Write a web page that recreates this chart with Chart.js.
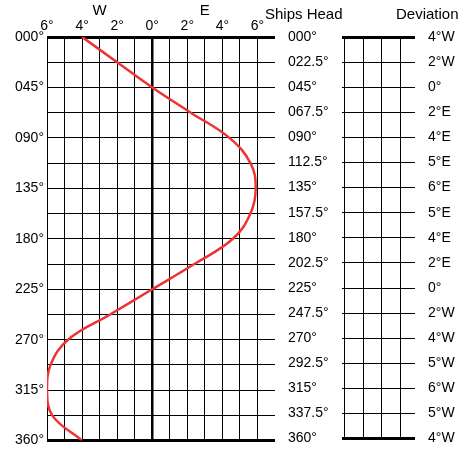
<!DOCTYPE html>
<html>
<head>
<meta charset="utf-8">
<script src="https://cdn.jsdelivr.net/npm/chart.js@4"></script>
<style>
  body { margin: 0; background: #fff; font-family: "Liberation Sans", Arial, sans-serif; }
  #wrap { position: relative; width: 474px; height: 462px; }
  #curveBox { position: absolute; left: 0; top: 0; width: 277px; height: 452px; }
  #tableBox { position: absolute; left: 288px; top: 0; width: 186px; height: 452px; }
  .head { position: absolute; top: 5px; font-size: 15px; color: #000; }
</style>
</head>
<body>
<div id="wrap">
  <div id="curveBox"><canvas id="curveChart"></canvas></div>
  <div id="tableBox"><canvas id="tableChart"></canvas></div>
  <div class="head" style="left:265px">Ships Head</div>
  <div class="head" style="left:396px">Deviation</div>
</div>
<script>
const headings = [0, 22.5, 45, 67.5, 90, 112.5, 135, 157.5, 180, 202.5, 225, 247.5, 270, 292.5, 315, 337.5, 360];
// deviation, east positive
const curveDeviation = [-4, -2, 0, 2.2, 4.4, 5.6, 5.9, 5.6, 4.6, 2.4, 0, -2.4, -4.8, -5.8, -6, -5.7, -4];
const headingLabels = ['000°', '022.5°', '045°', '067.5°', '090°', '112.5°', '135°', '157.5°', '180°',
  '202.5°', '225°', '247.5°', '270°', '292.5°', '315°', '337.5°', '360°'];
const deviationLabels = ['4°W', '2°W', '0°', '2°E', '4°E', '5°E', '6°E', '5°E', '4°E',
  '2°E', '0°', '2°W', '4°W', '5°W', '6°W', '5°W', '4°W'];
const sideLabels = [{ text: 'W', value: -3 }, { text: 'E', value: 3 }];

Chart.defaults.font.family = '"Liberation Sans", Arial, sans-serif';
Chart.defaults.font.size = 14;
Chart.defaults.color = '#000';
Chart.defaults.animation = false;

const edgeWidth = (ctx) => (ctx.tick && (ctx.tick.value === 0 || ctx.tick.value === 360) ? 3 : 1);

const sidePlugin = {
  id: 'sides',
  afterDraw(c) {
    const g = c.ctx;
    g.save();
    g.font = '15px "Liberation Sans", Arial, sans-serif';
    g.fillStyle = '#000';
    g.textAlign = 'center';
    sideLabels.forEach((s) => g.fillText(s.text, c.scales.x.getPixelForValue(s.value), 15));
    g.restore();
  }
};

new Chart(document.getElementById('curveChart'), {
  type: 'line',
  data: {
    datasets: [{
      data: headings.map((h, i) => ({ x: curveDeviation[i], y: h })),
      borderColor: '#ee3333',
      borderWidth: 2.5,
      pointRadius: 0,
      tension: 0.4,
      fill: false
    }]
  },
  options: {
    responsive: true,
    maintainAspectRatio: false,
    layout: { padding: { bottom: 9, right: 0 } },
    plugins: { legend: { display: false }, tooltip: { enabled: false } },
    scales: {
      x: {
        type: 'linear', position: 'top', min: -6, max: 7,
        afterBuildTicks: (s) => { s.ticks = [-6, -5, -4, -3, -2, -1, 0, 1, 2, 3, 4, 5, 6, 7].map((v) => ({ value: v })); },
        afterFit: (s) => { s.height = 37; },
        grid: {
          color: (ctx) => (ctx.tick && ctx.tick.value === 7 ? 'rgba(0,0,0,0)' : '#000'),
          lineWidth: (ctx) => (ctx.tick && ctx.tick.value === 0 ? 2.5 : 1),
          drawTicks: false
        },
        border: { display: false },
        ticks: {
          padding: 2, maxRotation: 0, autoSkip: false,
          callback: (v) => (v % 2 === 0 && v <= 6 ? Math.abs(v) + '°' : '')
        }
      },
      y: {
        type: 'linear', reverse: true, min: 0, max: 360,
        afterBuildTicks: (s) => { s.ticks = headings.map((v) => ({ value: v })); },
        afterFit: (s) => { s.width = 47; },
        grid: { color: '#000', lineWidth: edgeWidth, drawTicks: false },
        border: { display: false },
        ticks: {
          padding: 3, autoSkip: false,
          callback: (v) => (v % 45 === 0 ? headingLabels[headings.indexOf(v)] : '')
        }
      }
    }
  },
  plugins: [sidePlugin]
});

new Chart(document.getElementById('tableChart'), {
  type: 'scatter',
  data: { datasets: [{ data: [] }] },
  options: {
    responsive: true,
    maintainAspectRatio: false,
    layout: { padding: { bottom: 9 } },
    plugins: { legend: { display: false }, tooltip: { enabled: false } },
    scales: {
      x: {
        type: 'linear', position: 'top', min: -0.15, max: 3.8,
        afterBuildTicks: (s) => { s.ticks = [0, 1, 2, 3].map((v) => ({ value: v })); },
        afterFit: (s) => { s.height = 37; },
        grid: { color: '#000', drawTicks: false },
        border: { display: false },
        ticks: { display: false }
      },
      y: {
        type: 'linear', reverse: true, min: 0, max: 360, position: 'left',
        afterBuildTicks: (s) => { s.ticks = headings.map((v) => ({ value: v })); },
        afterFit: (s) => { s.width = 54; },
        grid: { color: '#000', lineWidth: edgeWidth, drawTicks: false },
        border: { display: false },
        ticks: { padding: 3, crossAlign: 'far', autoSkip: false, callback: (v) => headingLabels[headings.indexOf(v)] }
      },
      dev: {
        type: 'linear', reverse: true, min: 0, max: 360, position: 'right',
        afterBuildTicks: (s) => { s.ticks = headings.map((v) => ({ value: v })); },
        afterFit: (s) => { s.width = 59; },
        grid: { display: false },
        border: { display: false },
        ticks: { padding: 5, autoSkip: false, callback: (v) => deviationLabels[headings.indexOf(v)] }
      }
    }
  }
});
</script>
</body>
</html>
